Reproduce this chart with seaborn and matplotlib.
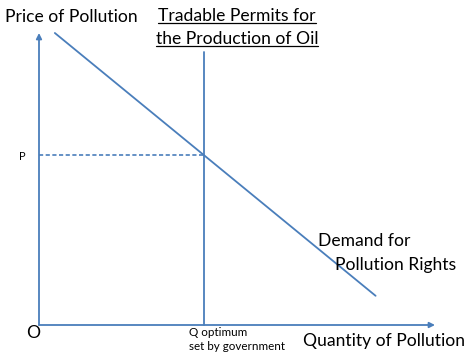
import matplotlib
matplotlib.use("Agg")
import matplotlib.pyplot as plt
import seaborn as sns
import pandas as pd

# Data (abstract units)
demand_q = [4.0, 85.0]
demand_p = [100.0, 10.0]
q_opt = 41.7
p_opt = 58.1
permit_top = 93.5
axis_x_max = 100.0
axis_y_max = 100.0

sns.set_theme(style="white")
plt.rcParams['font.family'] = ['Lato', 'DejaVu Sans']

blue = "#4a7ebb"
W, H = 470, 353
fig = plt.figure(figsize=(W / 100, H / 100), dpi=100)
ax = fig.add_axes([0, 0, 1, 1])
ax.set_xlim(-39 / 3.96, (W - 39) / 3.96)
ax.set_ylim(-(H - 325) / 2.92, 325 / 2.92)
ax.axis("off")

df = pd.DataFrame({"q": demand_q, "p": demand_p})
sns.lineplot(data=df, x="q", y="p", ax=ax, color=blue, lw=1.3)

# permit supply (vertical)
ax.plot([q_opt, q_opt], [0, permit_top], color=blue, lw=1.3)
# dashed price line
ax.plot([0, q_opt], [p_opt, p_opt], color=blue, lw=1.2, ls=(0, (2.5, 1.5)))

# axes arrows
ax.annotate("", xy=(axis_x_max, 0), xytext=(0, 0),
            arrowprops=dict(arrowstyle="-|>", color=blue, lw=1.3, shrinkA=0, shrinkB=0, mutation_scale=8))
ax.annotate("", xy=(0, axis_y_max), xytext=(0, 0),
            arrowprops=dict(arrowstyle="-|>", color=blue, lw=1.3, shrinkA=0, shrinkB=0, mutation_scale=8))

def px(x, y):
    return ((x - 39) / 3.96, (325 - y) / 2.92)

fs = 12.6
ax.text(*px(5, 17), "Price of Pollution", fontsize=fs, va="center", ha="left", color="black")
t1 = ax.text(*px(237, 16), "Tradable Permits for", fontsize=fs, va="center", ha="center", color="black")
t2 = ax.text(*px(237, 39), "the Production of Oil", fontsize=fs, va="center", ha="center", color="black")
ax.text(*px(318, 241), "Demand for", fontsize=fs, va="center", ha="left", color="black")
ax.text(*px(335, 265), "Pollution Rights", fontsize=fs, va="center", ha="left", color="black")
ax.text(*px(303, 341), "Quantity of Pollution", fontsize=fs, va="center", ha="left", color="black")
ax.text(*px(26, 333), "O", fontsize=fs, va="center", ha="left", color="black")
ax.text(*px(22, 156), "P", fontsize=8, va="center", ha="center", color="black")
ax.text(*px(189, 332), "Q optimum", fontsize=8.4, va="center", ha="left", color="black")
ax.text(*px(189, 347), "set by government", fontsize=8.4, va="center", ha="left", color="black")

# underline titles
fig.canvas.draw()
r = fig.canvas.get_renderer()
inv = ax.transData.inverted()
for t in (t1, t2):
    bb = t.get_window_extent(r)
    (x0, y0) = inv.transform((bb.x0, bb.y0 + 1.5))
    (x1, _) = inv.transform((bb.x1, bb.y0 + 1.5))
    ax.plot([x0, x1], [y0, y0], color="black", lw=0.9)

fig.savefig("out.png", dpi=100)
